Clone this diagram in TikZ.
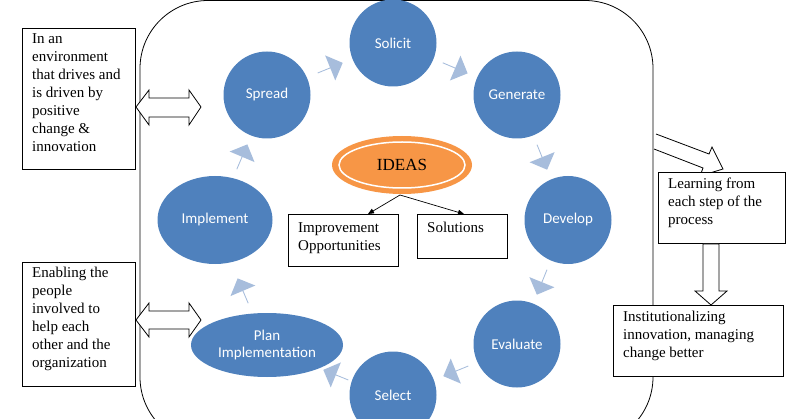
\documentclass[tikz,border=0pt]{standalone}
\usepackage{fontspec}
\setmainfont{Liberation Serif}
\newfontfamily\calib{Carlito}
\usetikzlibrary{shapes.arrows,arrows.meta}
\definecolor{stepblue}{RGB}{79,129,189}
\definecolor{flowblue}{RGB}{167,189,220}
\definecolor{ideaorange}{RGB}{247,150,70}
\tikzset{
  x=1pt,y=-1pt,
  stepnode/.style={ellipse,fill=stepblue,draw=none,text=white,font=\calib\fontsize{15}{17}\selectfont,align=center,inner sep=0},
  flow/.style={single arrow,fill=flowblue,draw=none,minimum height=27,minimum width=27,single arrow head extend=6,inner sep=0,text width=6},
  txtbox/.style={draw=black,fill=white,line width=0.8},
  boxtext/.style={anchor=north west,inner sep=0,align=left,font=\fontsize{15}{18}\selectfont},
  hollow/.style={draw=black,fill=white,line width=0.8},
}
\usetikzlibrary{shapes.geometric}
\begin{document}
\begin{tikzpicture}
\useasboundingbox (0,0) rectangle (799,419);
\begin{scope}
\clip (0,0) rectangle (799,419);
\draw[line width=0.8,rounded corners=68] (140,0.5) rectangle (653,445);
% steps
\node[stepnode,minimum width=87,minimum height=87] (solicit) at (393,43) {Solicit};
\node[stepnode,minimum width=87,minimum height=87] (generate) at (517,95) {Generate};
\node[stepnode,minimum width=87,minimum height=88] (develop) at (568,220) {Develop};
\node[stepnode,minimum width=87,minimum height=87] (evaluate) at (517,344) {Evaluate};
\node[stepnode,minimum width=87,minimum height=87] (select) at (393,395) {Select};
\node[stepnode,minimum width=152,minimum height=64] (plan) at (267,345) {Plan\\Implementation};
\node[stepnode,minimum width=115,minimum height=88] (implement) at (215,220) {Implement};
\node[stepnode,minimum width=87,minimum height=87] (spread) at (267,95) {Spread};
\end{scope}
% flow arrows
\node[flow,rotate=22] (f1) at (330,68) {};
\node[flow,rotate=-23] (f2) at (455,68) {};
\node[flow,rotate=-68] (f3) at (542,157) {};
\node[flow,rotate=-112] (f4) at (542,282) {};
\node[flow,rotate=-158] (f5) at (456,371) {};
\node[flow,rotate=158] (f6) at (336,375) {};
\node[flow,rotate=113] (f7) at (243,291) {};
\node[flow,rotate=67] (f8) at (242,157) {};
% ideas
\node[ellipse,fill=ideaorange,minimum width=140,minimum height=58,inner sep=0] (ideas) at (402,165) {};
\draw[white,line width=1.5] (ideas.center) ellipse [x radius=63,y radius=23];
\node[font=\fontsize{17}{20}\selectfont] (ideastext) at (402,165) {IDEAS};
\node[txtbox,minimum width=110,minimum height=52,anchor=north west] (impr) at (288,214) {};
\node[boxtext] (imprt) at (298,222) {Improvement\\Opportunities};
\node[txtbox,minimum width=90,minimum height=44,anchor=north west] (sol) at (417,214) {};
\node[boxtext] (solt) at (427,222) {Solutions};
\coordinate (i1) at (400,195);
\draw[-{Triangle[length=6,width=5]},line width=0.7] (i1) -- (impr.north -| 368,0);
\draw[-{Triangle[length=6,width=5]},line width=0.7] (i1) -- (sol.north -| 464,0);
% left boxes
\node[txtbox,minimum width=113,minimum height=141,anchor=north west] (lb1) at (22,28) {};
\node[boxtext] (lb1t) at (32,33) {In an\\environment\\that drives and\\is driven by\\positive\\change \&\\innovation};
\node[txtbox,minimum width=113,minimum height=124,anchor=north west] (lb2) at (22,262) {};
\node[boxtext] (lb2t) at (32,267) {Enabling the\\people\\involved to\\help each\\other and the\\organization};
\draw[hollow] (136,107) -- (149,90) -- (149,98) -- (189,98) -- (189,90) -- (201,107) -- (189,125) -- (189,117) -- (149,117) -- (149,125) -- cycle;
\draw[hollow] (136,320) -- (149,303) -- (149,311) -- (189,311) -- (189,303) -- (201,320) -- (189,337) -- (189,329) -- (149,329) -- (149,337) -- cycle;
% right
\draw[hollow] (656,134) -- (709,154) -- (712,147) -- (723,169) -- (700,176) -- (703,168) -- (654,149);
\node[txtbox,minimum width=127,minimum height=71,anchor=north west] (rb1) at (658,172) {};
\node[boxtext] (rb1t) at (668,178) {Learning from\\each step of the\\process};
\draw[hollow] (703,244) -- (719,244) -- (719,291) -- (727,291) -- (711,305) -- (695,291) -- (703,291) -- cycle;
\node[txtbox,minimum width=170,minimum height=71,anchor=north west] (rb2) at (613,305) {};
\node[boxtext] (rb2t) at (623,311) {Institutionalizing\\innovation, managing\\change better};
\end{tikzpicture}
\end{document}
